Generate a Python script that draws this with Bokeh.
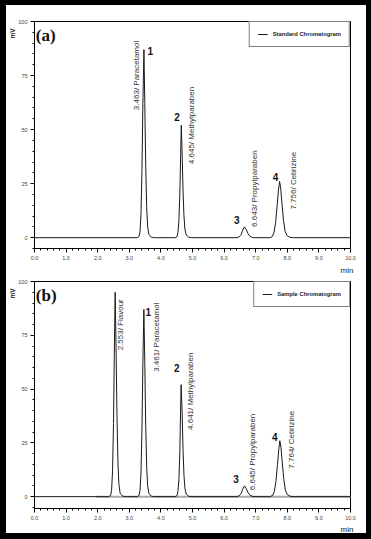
from math import pi
from bokeh.plotting import figure
from bokeh.models import (Range1d, SingleIntervalTicker, NumeralTickFormatter, Label,
                          Legend, LegendItem, Title)
from bokeh.layouts import column
from bokeh.embed import file_html
from bokeh.resources import INLINE
from bokeh.core.properties import value

# ---------------- data ----------------
# (a) Standard chromatogram trace: time (min), signal (mV)
std_time = [0.00, 3.25, 3.31, 3.34, 3.37, 3.40, 3.43, 3.463, 3.49, 3.52, 3.55, 3.58, 3.62, 3.70, 3.80,
            4.45, 4.51, 4.54, 4.57, 4.60, 4.625, 4.645, 4.67, 4.70, 4.73, 4.76, 4.80, 4.88, 4.98,
            6.40, 6.48, 6.54, 6.59, 6.643, 6.70, 6.76, 6.82, 6.92,
            7.45, 7.53, 7.58, 7.63, 7.68, 7.72, 7.756, 7.79, 7.83, 7.88, 7.93, 7.99, 8.08, 8.20, 10.00]
std_mv = [0.0, 0.0, 0.6, 3, 11, 31, 62, 87, 62, 33, 14, 5, 1.5, 0.2, 0.0,
          0.0, 0.5, 2.5, 8, 21, 38, 52, 40, 22, 10, 4, 1.2, 0.2, 0.0,
          0.0, 0.4, 1.5, 3.5, 5, 3.8, 1.8, 0.6, 0.0,
          0.0, 0.6, 2.5, 7, 15, 22, 26, 23, 16, 8, 3, 1, 0.2, 0.0, 0.0]

# (b) Sample chromatogram trace
smp_time = [0.00, 1.95, 2.35, 2.41, 2.44, 2.47, 2.50, 2.525, 2.553, 2.58, 2.61, 2.64, 2.67, 2.71, 2.80, 2.90,
            3.25, 3.31, 3.34, 3.37, 3.40, 3.43, 3.461, 3.49, 3.52, 3.55, 3.58, 3.62, 3.70, 3.80,
            4.45, 4.51, 4.54, 4.57, 4.60, 4.62, 4.641, 4.67, 4.70, 4.73, 4.76, 4.80, 4.88, 4.98,
            6.40, 6.48, 6.54, 6.59, 6.645, 6.70, 6.76, 6.82, 6.92,
            7.45, 7.54, 7.59, 7.64, 7.69, 7.73, 7.764, 7.80, 7.84, 7.89, 7.94, 8.00, 8.09, 8.21, 10.00]
smp_mv = [0.0, 0.0, 0.0, 0.6, 3, 12, 34, 66, 95, 70, 38, 16, 6, 1.5, 0.2, 0.0,
          0.0, 0.6, 3, 11, 31, 62, 87, 62, 33, 14, 5, 1.5, 0.2, 0.0,
          0.0, 0.5, 2.5, 8, 21, 38, 52, 40, 22, 10, 4, 1.2, 0.2, 0.0,
          0.0, 0.4, 1.5, 3.5, 5, 3.8, 1.8, 0.6, 0.0,
          0.0, 0.6, 2.5, 7, 15, 22, 26, 23, 16, 8, 3, 1, 0.2, 0.0, 0.0]
smp_baseline_time = [1.95, 10.00]
smp_baseline_mv = [0.0, 0.0]

std_rt = [3.463, 4.645, 6.643, 7.756]
std_names = ["Paracetamol", "Methylparaben", "Propylparaben", "Cetirizine"]
smp_rt = [2.553, 3.461, 4.641, 6.645, 7.764]
smp_names = ["Flavour", "Paracetamol", "Methylparaben", "Propylparaben", "Cetirizine"]
peak_numbers = ["1", "2", "3", "4"]

# annotation anchors (data coords)
std_label_x = [3.22, 4.97, 6.97, 8.20]
std_label_y = [59, 34, 5, 13]
std_num_x = [3.66, 4.51, 6.40, 7.63]
std_num_y = [86.5, 56, 8.3, 28]
smp_label_x = [2.71, 3.85, 4.95, 6.90, 8.13]
smp_label_y = [68, 58, 31, 3, 13]
smp_num_x = [3.60, 4.50, 6.38, 7.60]
smp_num_y = [86, 60, 8, 27.7]

SANS = "Liberation Sans"
INK = "#1a1a1a"


def make_panel(time, mv, rts, names, lab_x, lab_y, num_x, num_y, tag, legend_text,
               height, mb_top, mb_bottom, ymin, min_standoff, base=None):
    p = figure(width=360, height=height, output_backend="svg", toolbar_location=None,
               x_range=Range1d(0, 10), y_range=Range1d(ymin, 100),
               min_border_left=27, min_border_right=16, min_border_top=mb_top,
               min_border_bottom=mb_bottom)
    p.background_fill_color = "white"
    p.border_fill_color = "white"
    p.outline_line_color = "black"
    p.outline_line_width = 1
    p.grid.visible = False

    for ax, tk, fmt in ((p.xaxis, SingleIntervalTicker(interval=1, num_minor_ticks=5), "0.0"),
                        (p.yaxis, SingleIntervalTicker(interval=25, num_minor_ticks=5), "0")):
        ax.ticker = tk
        ax.formatter = NumeralTickFormatter(format=fmt)
        ax.axis_line_color = "black"
        ax.major_tick_line_color = "black"
        ax.minor_tick_line_color = "black"
        ax.major_tick_in = 0
        ax.major_tick_out = 4
        ax.minor_tick_in = 0
        ax.minor_tick_out = 2
        ax.major_label_text_font = SANS
        ax.major_label_text_font_size = "5.5px"
        ax.major_label_text_color = "#444444"
        ax.major_label_standoff = 3

    if base is not None:
        p.line(base[0], base[1], line_color="#a8a8a8", line_width=2)
    r = p.line(time, mv, line_color=INK, line_width=1)

    labels = [f"{rt:.3f}/ {nm}" for rt, nm in zip(rts, names)]
    p.text(x=lab_x, y=lab_y, text=labels, angle=pi / 2, text_align="left",
           text_baseline="middle", text_font=value(SANS), text_font_size="8px",
           text_color="#333333")
    p.text(x=num_x, y=num_y, text=peak_numbers, text_align="center",
           text_baseline="middle", text_font=value(SANS), text_font_size="10px",
           text_font_style="bold", text_color="#111111")

    p.add_layout(Label(x=0.04, y=100, y_offset=-4, text=tag, text_baseline="top",
                       text_font="Liberation Serif", text_font_size="17px",
                       text_font_style="bold", text_color="#111111"))

    # axis units as titles placed at the ends of the axes
    p.add_layout(Title(text="mV", align="right", offset=7, standoff=0,
                       text_font=SANS, text_font_size="6.5px", text_font_style="bold",
                       text_color="#222222"), "left")
    p.add_layout(Title(text="min", align="right", offset=-3, standoff=min_standoff,
                       text_font=SANS, text_font_size="8px", text_font_style="normal",
                       text_color="#222222"), "below")

    leg = Legend(items=[LegendItem(label=legend_text, renderers=[r])],
                 location="top_right", margin=0, padding=8, spacing=0,
                 glyph_width=10, glyph_height=8, label_standoff=5,
                 label_text_font=SANS, label_text_font_size="5.8px",
                 label_text_font_style="bold", label_text_color="#222222",
                 label_height=8, border_line_color="black", border_line_width=1,
                 background_fill_color="white", background_fill_alpha=1)
    p.add_layout(leg)
    return p


p1 = make_panel(std_time, std_mv, std_rt, std_names, std_label_x, std_label_y,
                std_num_x, std_num_y, "(a)", "Standard Chromatogram",
                height=271, mb_top=16, mb_bottom=28, ymin=-5, min_standoff=3)
p2 = make_panel(smp_time, smp_mv, smp_rt, smp_names, smp_label_x, smp_label_y,
                smp_num_x, smp_num_y, "(b)", "Sample Chromatogram",
                height=257, mb_top=5, mb_bottom=23, ymin=-5.5, min_standoff=0,
                base=(smp_baseline_time, smp_baseline_mv))

layout = column(p1, p2, spacing=0,
                styles={"background-color": "white", "border-style": "solid",
                        "border-color": "black", "border-width": "5px 5px 6px 6px"})

open("out.html", "w").write(file_html(layout, INLINE))
